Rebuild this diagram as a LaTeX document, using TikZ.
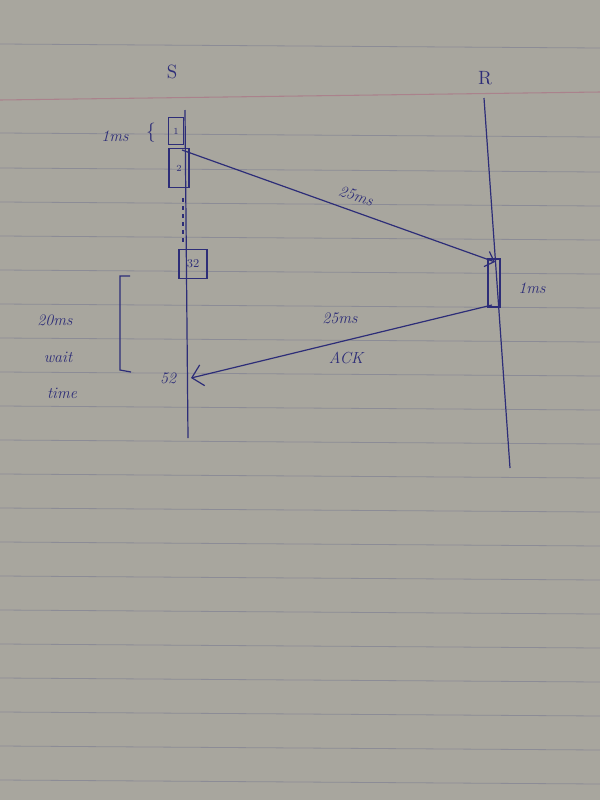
\documentclass[tikz,border=0pt]{standalone}
\usetikzlibrary{arrows.meta}
\begin{document}
\begin{tikzpicture}[x=0.75pt,y=-0.75pt,
  ink/.style={draw=inkc,line width=0.9pt},
  txt/.style={text=inkc,font=\large\itshape},
  rule/.style={draw=rulec,line width=0.6pt}]
\definecolor{paper}{RGB}{168,166,158}
\definecolor{inkc}{RGB}{45,45,120}
\definecolor{rulec}{RGB}{140,140,150}
\definecolor{redc}{RGB}{170,130,140}
\fill[paper] (0,0) rectangle (600,800);
\useasboundingbox (0,0) rectangle (600,800);
\foreach \y in {44,133,168,202,236,270,304,338,372,406,440,474,508,542,576,610,644,678,712,746,780}
  \draw[rule] (0,\y) -- (600,\y+4);
\draw[draw=redc,line width=0.8pt] (0,100) -- (600,92);
% labels
\node[txt,font=\Large] (S) at (172,72) {S};
\node[txt,font=\Large] (R) at (485,78) {R};
% lifelines
\coordinate (s1) at (185,110); \coordinate (s2) at (188,438);
\coordinate (r1) at (484,98); \coordinate (r2) at (510,468);
\draw[ink] (s1) -- (s2);
\draw[ink] (r1) -- (r2);
% boxes
\node[ink,minimum width=11pt,minimum height=20pt,inner sep=0pt,font=\scriptsize,text=inkc] (b1) at (176,131) {1};
\node[ink,minimum width=15pt,minimum height=29pt,inner sep=0pt,font=\scriptsize,text=inkc] (b2) at (179,168) {2};
\node[ink,minimum width=21pt,minimum height=22pt,inner sep=0pt,font=\small,text=inkc] (b32) at (193,264) {32};
\coordinate (d1) at (183,198); \coordinate (d2) at (183,242);
\draw[ink,dashed] (d1) -- (d2);
\node[ink,minimum width=9pt,minimum height=36pt,inner sep=0pt] (rb) at (494,283) {};
% 1ms brace
\node[txt] (ms1) at (115,136) {1ms};
\node[txt,font=\Large] (br1) at (151,133) {\{};
\node[txt] (ms2) at (532,288) {1ms};
% arrows
\coordinate (a1) at (182,150); \coordinate (a2) at (495,262);
\draw[ink,-{Straight Barb[length=6pt]}] (a1) -- (a2);
\node[txt,rotate=-18] (l1) at (356,196) {25ms};
\coordinate (a3) at (492,305); \coordinate (a4) at (191,378);
\draw[ink,-{Straight Barb[length=8pt]}] (a3) -- (a4);
\node[txt] (l2) at (340,318) {25ms};
\node[txt] (ack) at (346,358) {ACK};
\node[txt] (n52) at (168,378) {52};
% wait bracket
\coordinate (w1) at (130,276); \coordinate (w2) at (120,276);
\coordinate (w3) at (120,370); \coordinate (w4) at (131,372);
\draw[ink] (w1) -- (w2) -- (w3) -- (w4);
\node[txt] (t1) at (55,320) {20ms};
\node[txt] (t2) at (58,357) {wait};
\node[txt] (t3) at (62,393) {time};
\end{tikzpicture}
\end{document}
